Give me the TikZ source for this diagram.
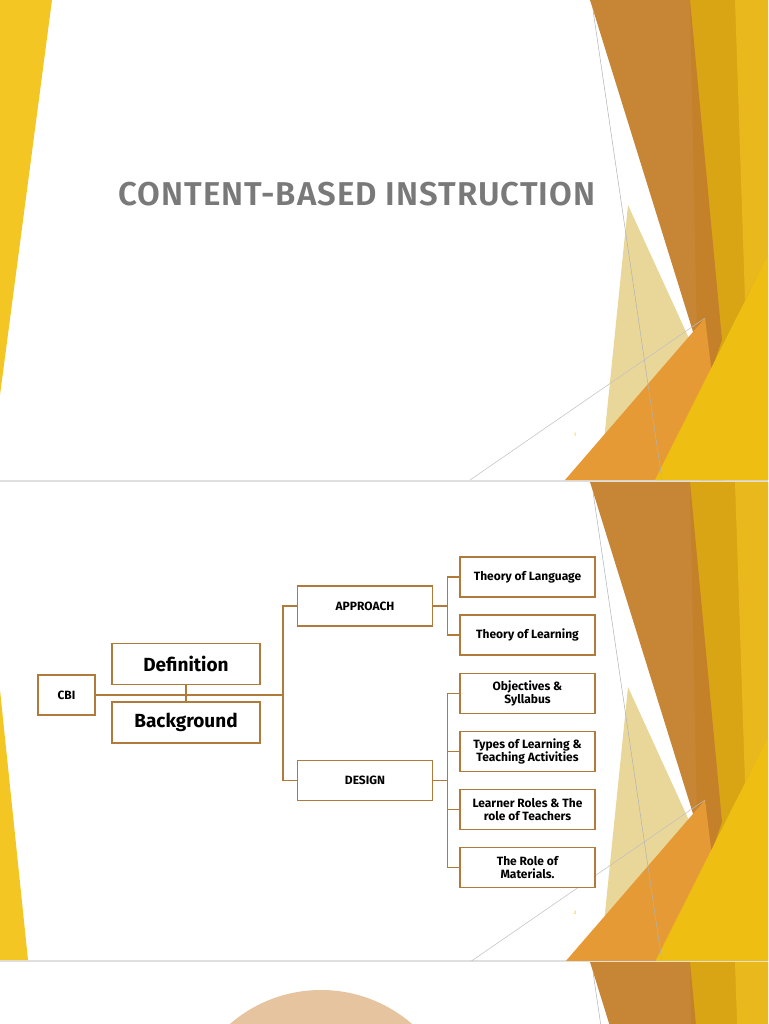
\documentclass[tikz,border=0pt]{standalone}
\usepackage{fontspec}
\setmainfont{Fira Sans}
\newfontfamily\titlefont[LetterSpace=3]{Fira Sans SemiBold}
\begin{document}
\begin{tikzpicture}[x=1pt,y=-1pt,
  box/.style={draw=boxc,line width=1.6pt,fill=white,minimum width=135pt,minimum height=40pt,align=center,font=\fontsize{12}{13}\selectfont\bfseries,inner sep=2pt},
  big/.style={box,minimum width=148pt,minimum height=41pt,font=\fontsize{19}{21}\selectfont\bfseries},
  conn/.style={draw=boxc,line width=1.6pt}]
\definecolor{boxc}{HTML}{B07A3A}
\definecolor{brownband}{HTML}{C47F2C}
\definecolor{gold}{HTML}{D9A514}
\definecolor{tan}{HTML}{E9D79A}
\definecolor{orangeT}{HTML}{E59A35}
\definecolor{yel}{HTML}{EEBE12}
\definecolor{lyel}{HTML}{F3C623}
\definecolor{beige}{HTML}{E5C49F}
\useasboundingbox (0,0) rectangle (768,1024);
\fill[gray!25] (0,0) rectangle (768,1024);
\newcommand{\deco}[1]{%
 \begin{scope}[yshift=-#1pt]
 \fill[gold] (690,0) -- (768,0) -- (768,480) -- (700,480) -- cycle;
 \fill[brownband,opacity=.95] (590,0) -- (690,0) -- (722,340) -- (708,380) -- cycle;
 \fill[tan] (628,205) -- (708,380) -- (720,480) -- (600,480) -- cycle;
 \fill[orangeT] (565,480) -- (705,318) -- (725,480) -- cycle;
 \fill[yel] (655,480) -- (768,255) -- (768,480) -- cycle;
 \fill[lyel,opacity=.6] (735,0) -- (768,0) -- (768,255) -- (745,300) -- cycle;
 \draw[gray!60,line width=.5pt] (593,10) -- (662,480);
 \draw[gray!50,line width=.5pt] (470,480) -- (705,318);
 \end{scope}}
% slide 1
\begin{scope}
\clip (0,0) rectangle (768,480);
\fill[white] (0,0) rectangle (768,480);
\fill[lyel] (0,0) -- (52,0) -- (0,395) -- cycle;
\deco{0}
\end{scope}
\node[text=gray!95!black,font=\fontsize{33}{36}\selectfont\titlefont] (title) at (357,194) {CONTENT-BASED INSTRUCTION};
\node[text=yel,font=\fontsize{5}{6}\selectfont] (p1) at (575,435) {1};
% slide 2
\begin{scope}
\clip (0,482) rectangle (768,960);
\fill[white] (0,482) rectangle (768,960);
\fill[lyel] (0,690) -- (28,960) -- (0,960) -- cycle;
\deco{482}
\end{scope}
\node[text=yel,font=\fontsize{5}{6}\selectfont] (p2) at (575,913) {2};
% slide 3
\begin{scope}
\clip (0,962) rectangle (768,1024);
\fill[white] (0,962) rectangle (768,1024);
\deco{962}
\fill[white] (0,962) rectangle (580,1024);
\fill[beige] (321,1129) circle (139);
\end{scope}
% diagram
\node[box,minimum width=57pt] (cbi) at (66.5,695) {CBI};
\node[big] (def) at (186,664) {Definition};
\node[big] (bg) at (186,722.5) {Background};
\node[box] (app) at (365,606) {APPROACH};
\node[box] (des) at (365,780.5) {DESIGN};
\node[box] (tl) at (527.5,577) {Theory of Language};
\node[box] (tle) at (527.5,635) {Theory of Learning};
\node[box] (obj) at (527.5,693.5) {Objectives \&\\ Syllabus};
\node[box] (typ) at (527.5,751.5) {Types of Learning \&\\ Teaching Activities};
\node[box] (lr) at (527.5,809.5) {Learner Roles \& The\\ role of Teachers};
\node[box] (mat) at (527.5,867.5) {The Role of\\ Materials.};
\coordinate (t1) at (284,695);
\draw[conn] (cbi.east) -- (t1);
\draw[conn] (def.south) -- (bg.north);
\draw[conn] (app.west) -- ++(-14,0) |- (des.west);
\draw[conn] (app.east) -- ++(14,0) coordinate (a1);
\draw[conn] (a1) |- (tl.west);
\draw[conn] (a1) |- (tle.west);
\draw[conn] (des.east) -- ++(14,0) coordinate (d1);
\draw[conn] (d1) |- (obj.west);
\draw[conn] (d1) |- (typ.west);
\draw[conn] (d1) |- (lr.west);
\draw[conn] (d1) |- (mat.west);
\end{tikzpicture}
\end{document}
